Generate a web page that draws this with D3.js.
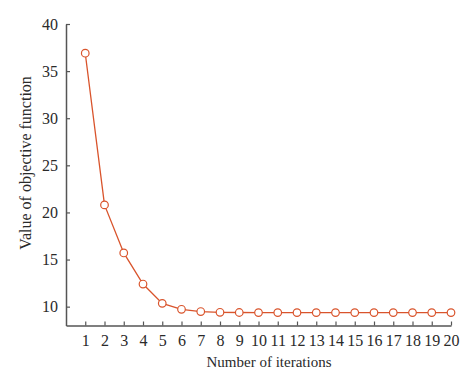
<!DOCTYPE html>
<html>
<head>
<meta charset="utf-8">
<script src="https://d3js.org/d3.v7.min.js"></script>
<style>
body { margin: 0; background: #fff; }
svg text { font-family: 'Liberation Serif', 'DejaVu Serif', serif; fill: #2a2a2a; }
</style>
</head>
<body>
<script>
// iterations and objective values
var iterations = d3.range(1, 21);
var objValues = [36.9, 20.8, 15.7, 12.4, 10.35, 9.72, 9.48, 9.4, 9.38, 9.37, 9.37, 9.37, 9.37, 9.37, 9.37, 9.37, 9.37, 9.37, 9.37, 9.37];
var yTicks = [10, 15, 20, 25, 30, 35, 40];

var w = 474, h = 387;
var svg = d3.select('body').append('svg')
    .attr('width', w)
    .attr('height', h);

var x = d3.scaleLinear().domain([0, 20]).range([66, 451]);
var y = d3.scaleLinear().domain([8, 40]).range([325.5, 24]);

var axisColor = '#555';

// x axis, ticks pointing inward
var xAxis = svg.append('g')
    .attr('transform', 'translate(0,' + y(8) + ')')
    .call(d3.axisBottom(x).tickValues(iterations).tickSizeInner(-4).tickSizeOuter(0).tickPadding(9));
xAxis.select('.domain').attr('stroke', axisColor).attr('stroke-width', 1.5);
xAxis.selectAll('.tick line').attr('stroke', axisColor).attr('stroke-width', 1.2);
xAxis.selectAll('.tick text').attr('font-size', 16).attr('fill', '#2a2a2a')
    .attr('font-family', "'Liberation Serif', serif");

// y axis
var yAxis = svg.append('g')
    .attr('transform', 'translate(' + x(0) + ',0)')
    .call(d3.axisLeft(y).tickValues(yTicks).tickSizeInner(-4).tickSizeOuter(0).tickPadding(8));
yAxis.select('.domain').attr('stroke', axisColor).attr('stroke-width', 1.5);
yAxis.selectAll('.tick line').attr('stroke', axisColor).attr('stroke-width', 1.2);
yAxis.selectAll('.tick text').attr('font-size', 16).attr('fill', '#2a2a2a')
    .attr('font-family', "'Liberation Serif', serif");

var lineColor = '#d9542c';
var data = iterations.map(function(d, i){ return {it: d, v: objValues[i]}; });

svg.append('path')
    .datum(data)
    .attr('fill', 'none')
    .attr('stroke', lineColor)
    .attr('stroke-width', 1.3)
    .attr('d', d3.line()
        .x(function(d){ return x(d.it); })
        .y(function(d){ return y(d.v); }));

svg.selectAll('circle.pt')
    .data(data)
    .enter()
    .append('circle')
    .attr('class', 'pt')
    .attr('cx', function(d){ return x(d.it); })
    .attr('cy', function(d){ return y(d.v); })
    .attr('r', 3.8)
    .attr('fill', '#fff')
    .attr('stroke', lineColor)
    .attr('stroke-width', 1.2);

svg.append('text')
    .text('Number of iterations')
    .attr('x', 269)
    .attr('y', 367)
    .attr('text-anchor', 'middle')
    .attr('font-size', 15);

svg.append('text')
    .text('Value of objective function')
    .attr('transform', 'translate(31,163) rotate(-90)')
    .attr('text-anchor', 'middle')
    .attr('font-size', 16);
</script>
</body>
</html>
